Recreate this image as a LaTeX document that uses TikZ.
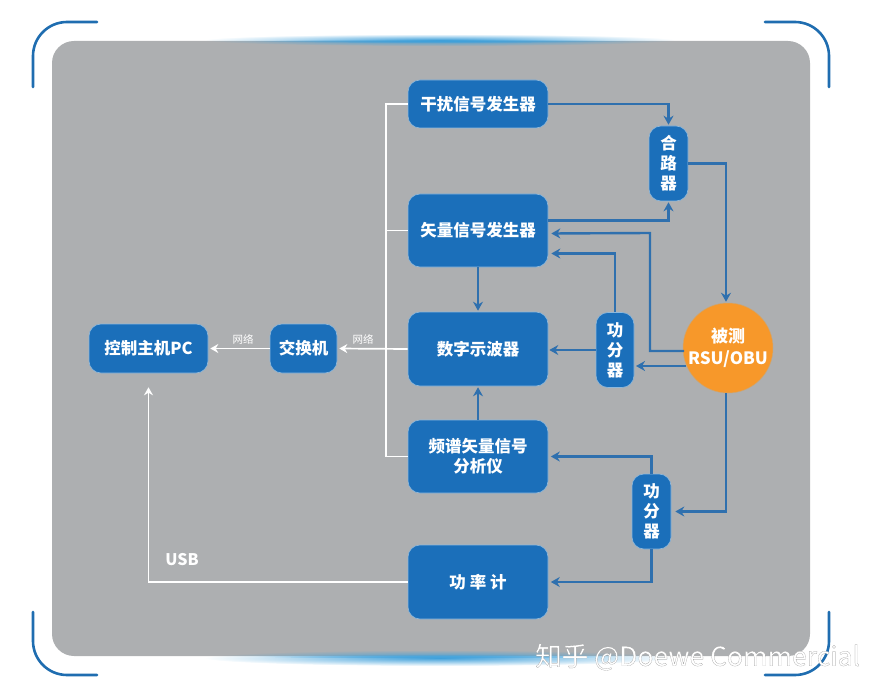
\documentclass[tikz,border=0pt]{standalone}
\usepackage{fontspec}
\usepackage{xcolor}
\usetikzlibrary{calc, fadings, arrows.meta}
\setmainfont{Noto Sans CJK SC}
\newfontfamily\markfont{Noto Sans CJK SC}[FakeBold=0.5]

\definecolor{panelgray}{HTML}{ADAFB1}
\definecolor{boxblue}{HTML}{1B6FBA}
\definecolor{boxedge}{HTML}{8DB8DC}
\definecolor{linkblue}{HTML}{2F70AE}
\definecolor{cornerblue}{HTML}{1F6DB0}
\definecolor{dutorange}{HTML}{F7982A}
\definecolor{glowblue}{HTML}{3FA0DA}

\tikzfading[name=glowfade, inner color=transparent!0, outer color=transparent!100]

\tikzset{
	blockbox/.style={draw=boxedge, line width=0.6pt, fill=boxblue, text=white, rounded corners=12pt, inner sep=0pt, align=center, font=\fontsize{16.5}{20}\selectfont\bfseries},
	splitbox/.style={blockbox, minimum width=39pt, minimum height=75pt},
	rflink/.style={draw=linkblue, line width=2.4pt, -{Stealth[length=9pt, width=10pt]}, shorten >=1pt},
	netlink/.style={draw=white, line width=1.7pt},
	netarrow/.style={netlink, -{Stealth[length=8pt, width=9pt]}},
	corner/.style={draw=cornerblue, line width=2.6pt, line cap=round, rounded corners=34pt},
}

\begin{document}
\begin{tikzpicture}[x=1pt, y=-1pt]
	\useasboundingbox (0,0) rectangle (883,695);
	
	\fill [panelgray, rounded corners=22pt] (52,41) rectangle (810,656);
	
	% glow on the panel edges
	\fill [glowblue, path fading=glowfade] (440,40) ellipse (235 and 6);
	\fill [glowblue, path fading=glowfade] (440,41) ellipse (190 and 2);
	\fill [glowblue, path fading=glowfade] (440,658) ellipse (235 and 8);
	\fill [glowblue, path fading=glowfade] (440,656.5) ellipse (190 and 2);
	
	\draw [corner] (33,87) |- (97,22);
	\draw [corner] (829,87) |- (765,22);
	\draw [corner] (33,612) |- (97,675);
	\draw [corner] (829,612) |- (765,675);
	
	\node [blockbox, minimum width=119pt, minimum height=49pt] (pc) at (148.5,348.5) {控制主机PC};
	\node [blockbox, minimum width=67pt, minimum height=49pt] (switch) at (303.5,348.5) {交换机};
	\node [blockbox, minimum width=140pt, minimum height=48pt] (jammer) at (478,104) {干扰信号发生器};
	\node [blockbox, minimum width=140pt, minimum height=73pt] (vsg) at (478,230.5) {矢量信号发生器};
	\node [blockbox, minimum width=140pt, minimum height=74pt] (scope) at (478,349) {数字示波器};
	\node [blockbox, minimum width=140pt, minimum height=73pt] (vsa) at (478,456.5) {频谱矢量信号\\分析仪};
	\node [blockbox, minimum width=140pt, minimum height=74pt] (meter) at (478,582) {功 率 计};
	\node [splitbox] (combiner) at (668.5,163.5) {合\\路\\器};
	\node [splitbox, minimum width=38pt] (splitA) at (615,350) {功\\分\\器};
	\node [splitbox] (splitB) at (651.5,511.5) {功\\分\\器};
	\node [circle, draw=boxedge!40!dutorange, line width=0.5pt, fill=dutorange, text=white, minimum size=90pt, inner sep=0pt, align=center, font=\fontsize{17}{22}\selectfont\bfseries] (dut) at (728,348) {被测\\RSU/OBU};
	
	% blue links
	\coordinate (vsgout) at ($(vsg.east)+(0,-10)$);
	\coordinate (vsgin) at ($(vsg.east)+(2,3)$);
	\coordinate (vsgsplit) at ($(vsg.east)+(2,23)$);
	\coordinate (dutout) at (684,351);
	\coordinate (dutsplit) at (686,366);
	\coordinate (splitAin) at (635,366);
	\coordinate (dutin) at ($(dut.north)+(-2,0)$);
	\coordinate (dutdown) at ($(dut.south)+(-2,0)$);
	
	\draw [rflink] (jammer.east) -| (combiner.north);
	\draw [rflink] (vsgout) -| (combiner.south);
	\draw [rflink] (combiner.east) -| (dutin);
	\draw [rflink] (dutout) -| (650,233) -- (vsgin);
	\draw [rflink] (splitA.north) |- (vsgsplit);
	\draw [rflink] (splitA.west) -- (splitA.west -| scope.east);
	\draw [rflink] (dutsplit) -- (splitAin);
	\draw [rflink] (vsg.south) -- (scope.north);
	\draw [rflink] (vsa.north) -- (scope.south);
	\draw [rflink, shorten >=4pt] (dutdown) |- (splitB.east);
	\draw [rflink, shorten >=2.5pt] (splitB.north) |- (vsa.east);
	\draw [rflink, shorten >=2.5pt] (splitB.south) |- (meter.east);
	
	% white links
	\coordinate (busx) at (386,349);
	\draw [netlink] (jammer.west) -| (busx |- vsa.west) -- (vsa.west);
	\draw [netlink] (vsg.west) -- (busx |- vsg.west);
	\draw [netarrow, shorten >=2pt] (scope.west) -- (switch.east);
	\draw [netarrow, shorten >=2pt] (switch.west) -- (pc.east);
	\draw [netarrow, shorten >=14pt] (meter.west) -| (pc.south);
	
	\node [text=white, font=\fontsize{10.5}{10.5}\selectfont] (netA) at (243,339.5) {网络};
	\node [text=white, font=\fontsize{10.5}{10.5}\selectfont] (netB) at (363,339.5) {网络};
	\node [text=white, font=\fontsize{16}{16}\selectfont\bfseries] (usb) at (182,560) {USB};
	
	\node [anchor=west, inner sep=0pt, font=\fontsize{26.5}{26.5}\markfont] (mark) at (535,657) {\special{pdf:bc [1] [0.55]}知乎 @Doewe Commercial\special{pdf:ec}};
\end{tikzpicture}
\end{document}
